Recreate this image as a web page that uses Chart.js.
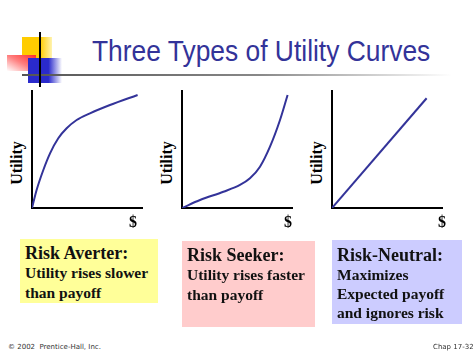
<!DOCTYPE html>
<html lang="en">
<head>
<meta charset="UTF-8">
<title>Three Types of Utility Curves</title>
<script src="https://cdn.jsdelivr.net/npm/chart.js@4.4.0/dist/chart.umd.min.js"></script>
<style>
  html, body { margin: 0; padding: 0; }
  body { width: 474px; height: 355px; position: relative; overflow: hidden; background: #fff; font-family: 'Liberation Serif', 'Times New Roman', serif; }
  .abs { position: absolute; }
  .title { left: 92px; top: 29px; font-family: 'Liberation Sans', Arial, sans-serif; font-size: 29px; color: #333399; white-space: nowrap; transform-origin: 0 0; transform: scaleX(0.91); line-height: 44px; }
  .rule { left: 22px; top: 74px; width: 430px; height: 2px; background: linear-gradient(to right, #555 0%, #888 55%, #fff 100%); }
  .vline { left: 39px; top: 32px; width: 2px; height: 55px; background: #000; }
  .sq-yellow { left: 22px; top: 37px; width: 30px; height: 22px; background: linear-gradient(to right, #ffcc00 60%, #fff3b0 100%); }
  .sq-red { left: 7px; top: 55px; width: 29px; height: 16px; background: linear-gradient(to bottom left, #ff2a2a 0%, #ff8080 50%, #fff 100%); }
  .sq-blue { left: 28px; top: 58px; width: 34px; height: 25px; background: linear-gradient(to right, #2a2acc 0%, #2a2acc 60%, #ffffff 100%); }
  .ylab { font-weight: bold; font-size: 16px; transform: translate(-50%, -50%) rotate(-90deg); white-space: nowrap; color: #000; }
  .xlab { font-weight: bold; font-size: 16px; transform: translate(-50%, -50%); color: #000; }
  canvas { position: absolute; }
  .box { position: absolute; font-weight: bold; color: #111; box-sizing: border-box; }
  .box .head { font-size: 18px; line-height: 20px; }
  .box .sub { font-size: 15.5px; line-height: 20px; }
  .foot { font-family: 'DejaVu Sans', sans-serif; font-size: 7px; color: #333; top: 343px; white-space: nowrap; }
</style>
</head>
<body>
  <div class="abs sq-yellow"></div>
  <div class="abs sq-red"></div>
  <div class="abs sq-blue"></div>
  <div class="abs rule"></div>
  <div class="abs vline"></div>
  <div class="abs title">Three Types of Utility Curves</div>

  <canvas id="averter" width="122" height="129" style="left:26px; top:85px;"></canvas>
  <canvas id="seeker" width="122" height="129" style="left:176px; top:85px;"></canvas>
  <canvas id="neutral" width="122" height="129" style="left:326px; top:85px;"></canvas>

  <div class="abs ylab" style="left:17px; top:163px;">Utility</div>
  <div class="abs ylab" style="left:167px; top:163px;">Utility</div>
  <div class="abs ylab" style="left:317px; top:163px;">Utility</div>
  <div class="abs xlab" style="left:133px; top:222px;">$</div>
  <div class="abs xlab" style="left:288px; top:222px;">$</div>
  <div class="abs xlab" style="left:442px; top:222px;">$</div>

  <div class="box" style="left:20px; top:239px; width:138px; height:64px; background:#ffff99; padding:4px 0 0 5px;">
    <div class="head">Risk Averter:</div>
    <div class="sub">Utility rises slower<br>than payoff</div>
  </div>
  <div class="box" style="left:182px; top:241px; width:133px; height:86px; background:#ffcccc; padding:4px 0 0 5px;">
    <div class="head">Risk Seeker:</div>
    <div class="sub">Utility rises faster<br>than payoff</div>
  </div>
  <div class="box" style="left:332px; top:240px; width:130px; height:84px; background:#ccccff; padding:5px 0 0 5px;">
    <div class="head">Risk-Neutral:</div>
    <div class="sub" style="line-height:19px;">Maximizes<br>Expected payoff<br>and ignores risk</div>
  </div>

  <div class="abs foot" style="left:8px;">&copy; 2002&nbsp; Prentice-Hall, Inc.</div>
  <div class="abs foot" style="left:433px;">Chap 17-32</div>

<script>
  // payoff ($) vs utility, both on 0..10 scales
  const averterX = [0, 0.42, 1.03, 1.64, 2.39, 3.15, 4.06, 5.27, 7.09, 9.6];
  const averterY = [0, 1.54, 3.25, 4.67, 5.96, 6.81, 7.52, 8.09, 8.8, 9.66];
  const seekerX = [0, 1.64, 3.76, 5.27, 6.18, 7.09, 8.0, 8.91, 9.6];
  const seekerY = [0, 0.68, 1.39, 1.97, 2.54, 3.53, 5.24, 7.52, 9.66];
  const neutralX = [0, 8.6];
  const neutralY = [0, 9.38];

  function axis() {
    return {
      type: 'linear', min: 0, max: 10,
      grid: { display: false, drawTicks: false },
      ticks: { display: false },
      border: { display: true, color: '#000', width: 2 }
    };
  }

  function makeChart(id, xs, ys) {
    new Chart(document.getElementById(id), {
      type: 'scatter',
      data: {
        datasets: [{
          data: xs.map((x, i) => ({ x: x, y: ys[i] })),
          showLine: true,
          borderColor: '#333399',
          borderWidth: 2,
          pointRadius: 0,
          cubicInterpolationMode: 'monotone',
          fill: false
        }]
      },
      options: {
        responsive: false,
        animation: false,
        devicePixelRatio: 1,
        layout: { padding: 6 },
        plugins: { legend: { display: false }, tooltip: { enabled: false } },
        scales: { x: axis(), y: axis() }
      }
    });
  }

  makeChart('averter', averterX, averterY);
  makeChart('seeker', seekerX, seekerY);
  makeChart('neutral', neutralX, neutralY);
</script>
</body>
</html>
